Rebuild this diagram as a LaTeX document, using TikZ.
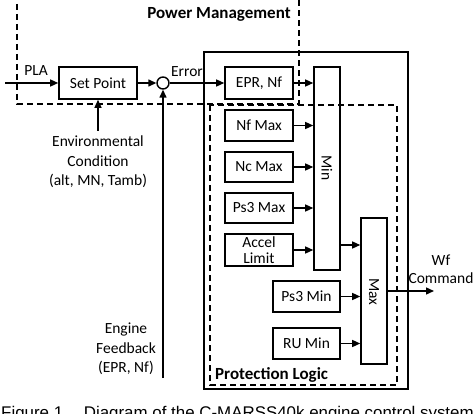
\documentclass[tikz,border=0pt]{standalone}
\usepackage{fontspec}
\setmainfont{Carlito}
\newfontfamily\capfont{Liberation Sans}
\usetikzlibrary{arrows.meta}
\begin{document}
\begin{tikzpicture}[x=1pt,y=-1pt,
 blk/.style={draw,line width=1.6pt,minimum width=68pt,minimum height=31pt,inner sep=0pt,font=\fontsize{15.5}{16}\selectfont,align=center},
 bar/.style={draw,line width=1.6pt,minimum width=26pt,inner sep=0pt},
 arr/.style={line width=1.4pt,-{Triangle[length=8pt,width=7pt]}},
 dsh/.style={line width=1.6pt,dash pattern=on 6pt off 4pt},
 lbl/.style={font=\fontsize{15.5}{19.5}\selectfont,align=center,inner sep=0pt},
 ttl/.style={font=\fontsize{17}{18}\selectfont\bfseries,inner sep=0pt},
 ]
\useasboundingbox (0,0) rectangle (474,414);
% frames
\draw[dsh] (17,-6) -- (17,104) -- (299,104) -- (299,-6);
\draw[line width=1.6pt] (204,52) rectangle (408,389);
\draw[dsh] (210,105) rectangle (397,385);
\node[ttl] (pm) at (219,14) {Power Management};
\node[ttl,anchor=west] (pl) at (215,375) {Protection Logic};
% blocks
\node[blk,minimum width=78pt,minimum height=32pt] (sp) at (98,83) {Set Point};
\node[circle,draw,line width=1.4pt,minimum size=12pt,inner sep=0pt] (sum) at (163,83) {};
\node[blk,minimum height=32pt] (epr) at (259,83) {EPR, Nf};
\node[blk] (nf) at (259,125.5) {Nf Max};
\node[blk,minimum height=30pt] (nc) at (259,167) {Nc Max};
\node[blk,minimum height=30pt] (ps3) at (259,208) {Ps3 Max};
\node[blk,minimum height=32pt] (acc) at (259,250) {Accel\\Limit};
\node[bar,minimum height=203pt] (minb) at (327,168.5) {};
\node[rotate=-90,lbl] (mint) at (327,168) {Min};
\node[bar,minimum height=146pt] (maxb) at (374,291) {};
\node[rotate=-90,lbl] (maxt) at (374,292) {Max};
\node[blk,minimum width=67pt] (psmin) at (306.5,296.5) {Ps3 Min};
\node[blk,minimum width=67pt] (rumin) at (306.5,343.5) {RU Min};
% labels
\node[lbl] (plat) at (36,71) {PLA};
\node[lbl] (errt) at (187,72) {Error};
\node[lbl] (envt) at (98,162) {Environmental\\Condition\\(alt, MN, Tamb)};
\node[lbl] (fbt) at (126,349) {Engine\\Feedback\\(EPR, Nf)};
\node[lbl,font=\fontsize{15.5}{18}\selectfont] (wft) at (441,269) {Wf\\Command};
% connectors
\coordinate (pla) at (5,83);
\coordinate (env) at (98,131);
\coordinate (fb) at (163,378);
\coordinate (wf) at (434,291);
\coordinate (mo) at (340,245);
\draw[arr] (pla) -- (sp.west);
\draw[arr] (sp.east) -- (sum.west);
\draw[arr] (sum.east) -- (epr.west);
\draw[arr] (env) -- (sp.south);
\draw[arr] (fb) -- (sum.south);
\draw[arr] (epr.east) -- (epr.east -| minb.west);
\draw[arr] (nf.east) -- (nf.east -| minb.west);
\draw[arr] (nc.east) -- (nc.east -| minb.west);
\draw[arr] (ps3.east) -- (ps3.east -| minb.west);
\draw[arr] (acc.east) -- (acc.east -| minb.west);
\draw[arr] (mo) -- (mo -| maxb.west);
\draw[arr] (psmin.east) -- (psmin.east -| maxb.west);
\draw[arr] (rumin.east) -- (rumin.east -| maxb.west);
\draw[arr] (maxb.east) -- (wf);
% caption
\node[anchor=base west,font=\capfont\fontsize{16.9}{18}\selectfont,inner sep=0pt] (cap) at (1,418) {Figure 1.\hspace{16pt}Diagram of the C-MARSS40k engine control system};
\end{tikzpicture}
\end{document}
